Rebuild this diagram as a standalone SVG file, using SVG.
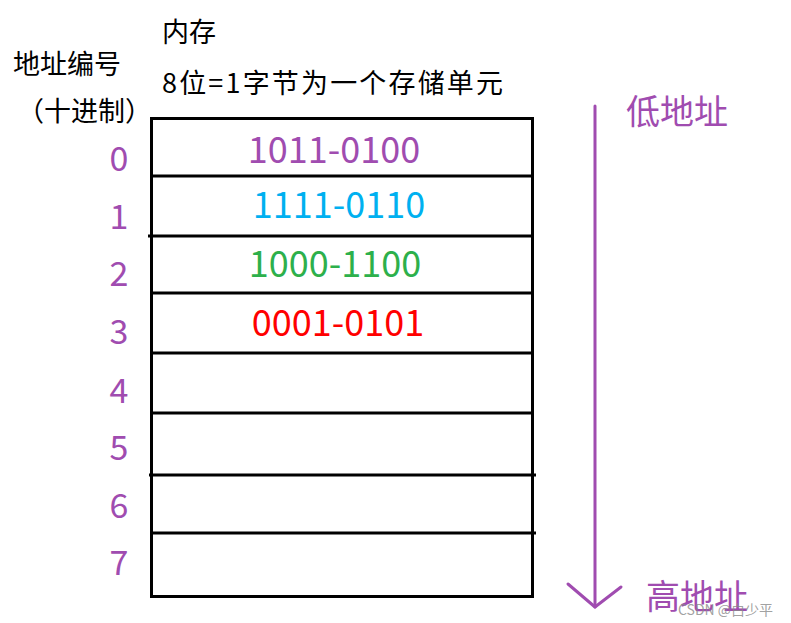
<svg xmlns="http://www.w3.org/2000/svg" width="791" height="623" viewBox="0 0 791 623">
<style>
text{font-family:"Noto Sans CJK SC","Microsoft YaHei","Noto Sans",sans-serif}
.t{font-size:27px;fill:#000}
.n{font-size:34px;fill:#A04CB0;text-anchor:middle}
.v{font-size:36px;text-anchor:middle}
.h{font-size:34px;fill:#A04CB0}
.ln{stroke:#000;stroke-width:3;fill:none}
.ar{stroke:#A04CB0;stroke-width:3;fill:none;stroke-linecap:round;stroke-linejoin:round}
</style>
<rect width="791" height="623" fill="#fff"/>
<g id="titles">
<text class="t" x="162" y="42">内存</text>
<text class="t" x="13" y="74">地址编号</text>
<text class="t" x="162" y="93" textLength="341">8位=1字节为一个存储单元</text>
<text class="t" x="17" y="121">（十进制）</text>
</g>
<g id="memory">
<rect class="ln" x="151.5" y="118.5" width="381" height="478"/>
<line class="ln" x1="151" y1="176" x2="533" y2="176"/>
<line class="ln" x1="148" y1="236" x2="533" y2="236"/>
<line class="ln" x1="151" y1="293" x2="533" y2="293"/>
<line class="ln" x1="151" y1="353" x2="533" y2="353"/>
<line class="ln" x1="151" y1="413" x2="533" y2="413"/>
<line class="ln" x1="149" y1="475" x2="536" y2="475"/>
<line class="ln" x1="151" y1="533" x2="536" y2="533"/>
</g>
<g id="values">
<text class="v" x="334" y="163" fill="#A04CB0">1011-0100</text>
<text class="v" x="339" y="218" fill="#00B0F0">1111-0110</text>
<text class="v" x="335" y="277" fill="#2DB04B">1000-1100</text>
<text class="v" x="338" y="336" fill="#FF0000">0001-0101</text>
</g>
<g id="addresses">
<text class="n" x="119" y="171">0</text>
<text class="n" x="119" y="229">1</text>
<text class="n" x="119" y="286">2</text>
<text class="n" x="119" y="344">3</text>
<text class="n" x="119" y="403">4</text>
<text class="n" x="119" y="460">5</text>
<text class="n" x="119" y="518">6</text>
<text class="n" x="119" y="575">7</text>
</g>
<g id="connectors">
<line class="ar" x1="595" y1="106" x2="595" y2="607"/>
<polyline class="ar" points="568,584 595,607 621,587"/>
</g>
<g id="labels">
<text class="h" x="626" y="124">低地址</text>
<text class="h" x="646" y="609">高地址</text>
<text x="678" y="615" font-size="14" fill="#888" fill-opacity="0.8">CSDN @白少平</text>
</g>
</svg>
